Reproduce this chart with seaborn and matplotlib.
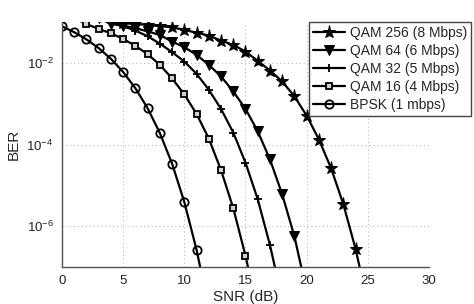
import numpy as np
import pandas as pd
import matplotlib
matplotlib.use("Agg")
import matplotlib.pyplot as plt
import seaborn as sns

# ---- data (log10 of BER) ----
snr_256 = [4, 5, 6, 7, 8, 9, 10, 11, 12, 13, 14, 15, 16, 17, 18, 19, 20, 21, 22, 23, 24, 25]
ber_256 = [-0.90, -1.03, -1.05, -1.07, -1.10, -1.13, -1.195, -1.261, -1.334, -1.456, -1.561,
           -1.724, -1.951, -2.188, -2.456, -2.822, -3.293, -3.878, -4.585, -5.463, -6.561, -7.9]

snr_64 = [3, 4, 5, 6, 7, 8, 9, 10, 11, 12, 13, 14, 15, 16, 17, 18, 19, 20]
ber_64 = [-0.90, -1.049, -1.09, -1.15, -1.23, -1.317, -1.48, -1.617, -1.805, -2.049, -2.334,
          -2.70, -3.129, -3.676, -4.366, -5.22, -6.251, -7.6]

snr_32 = [4, 5, 6, 7, 8, 9, 10, 11, 12, 13, 14, 15, 16, 17, 18]
ber_32 = [-0.95, -1.10, -1.21, -1.35, -1.53, -1.739, -1.968, -2.268, -2.659, -3.129, -3.707,
          -4.446, -5.341, -6.463, -7.8]

snr_16 = [1, 2, 3, 4, 5, 6, 7, 8, 9, 10, 11, 12, 13, 14, 15, 16]
ber_16 = [-0.90, -1.049, -1.171, -1.276, -1.415, -1.585, -1.788, -2.049, -2.383, -2.773,
          -3.251, -3.854, -4.627, -5.561, -6.724, -8.1]

snr_bpsk = [0, 1, 2, 3, 4, 5, 6, 7, 8, 9, 10, 11, 12]
ber_bpsk = [-1.105, -1.25, -1.426, -1.64, -1.903, -2.225, -2.622, -3.113, -3.72, -4.47,
            -5.41, -6.58, -8.0]

labels = ["QAM 256 (8 Mbps)", "QAM 64 (6 Mbps)", "QAM 32 (5 Mbps)",
          "QAM 16 (4 Mbps)", "BPSK (1 mbps)"]
xticks = [0, 5, 10, 15, 20, 25, 30]
yticks = [1e-6, 1e-4, 1e-2]

series = [(snr_256, ber_256), (snr_64, ber_64), (snr_32, ber_32),
          (snr_16, ber_16), (snr_bpsk, ber_bpsk)]
frames = []
for lab, (s, b) in zip(labels, series):
    frames.append(pd.DataFrame({"SNR": s, "BER": 10.0 ** np.array(b), "scheme": lab}))
df = pd.concat(frames, ignore_index=True)

sns.set_style("white")
plt.rcParams["font.family"] = ["Liberation Sans", "DejaVu Sans"]
plt.rcParams["mathtext.fontset"] = "custom"
plt.rcParams["mathtext.rm"] = "Liberation Sans"
plt.rcParams["mathtext.it"] = "Liberation Sans:italic"

fig = plt.figure(figsize=(4.74, 3.04), dpi=100)
ax = fig.add_axes([62 / 474, 1 - 267 / 304, (429 - 62) / 474, (267 - 22) / 304])

styles = {
    labels[0]: dict(marker="*", markersize=9.5, markerfacecolor="black", markeredgecolor="black"),
    labels[1]: dict(marker="v", markersize=7, markerfacecolor="black", markeredgecolor="black"),
    labels[2]: dict(marker="+", markersize=6, markeredgewidth=1.3, markeredgecolor="black"),
    labels[3]: dict(marker="s", markersize=5, markerfacecolor="#d0d0d0", markeredgecolor="black", markeredgewidth=1.3),
    labels[4]: dict(marker="o", markersize=6, markerfacecolor="none", markeredgecolor="black", markeredgewidth=1.3),
}
for lab in labels:
    sub = df[df["scheme"] == lab]
    sns.lineplot(data=sub, x="SNR", y="BER", ax=ax, color="black", linewidth=1.6,
                 label=lab, **styles[lab])

ax.set_yscale("log")
ax.set_xlim(0, 30)
ax.set_ylim(1e-7, 1e-1)
ax.set_xticks(xticks)
ax.set_yticks(yticks)
ax.set_yticklabels([r"$10^{-6}$", r"$10^{-4}$", r"$10^{-2}$"])
ax.minorticks_off()
ax.yaxis.set_minor_locator(matplotlib.ticker.NullLocator())
ax.tick_params(axis="both", direction="in", length=3, labelsize=9.5, colors="#222222",
               pad=6)
ax.grid(True, linestyle=(0, (1, 3)), color="#aaaaaa", linewidth=0.7)
for sp in ["top", "right"]:
    ax.spines[sp].set_visible(False)
for sp in ["left", "bottom"]:
    ax.spines[sp].set_color("#555555")
    ax.spines[sp].set_linewidth(1.0)

ax.set_xlabel("SNR (dB)", fontsize=11, labelpad=2)
ax.set_ylabel("BER", fontsize=11, labelpad=4)

leg = ax.legend(loc="upper right", bbox_to_anchor=(471 / 474, 1 - 22 / 304),
                bbox_transform=fig.transFigure, fontsize=10, frameon=True,
                fancybox=False, edgecolor="#444444", framealpha=1,
                handlelength=2.3, handletextpad=0.3, borderpad=0.3,
                labelspacing=0.28, borderaxespad=0)
leg.get_frame().set_linewidth(1.0)

fig.savefig("out.png", dpi=100)
